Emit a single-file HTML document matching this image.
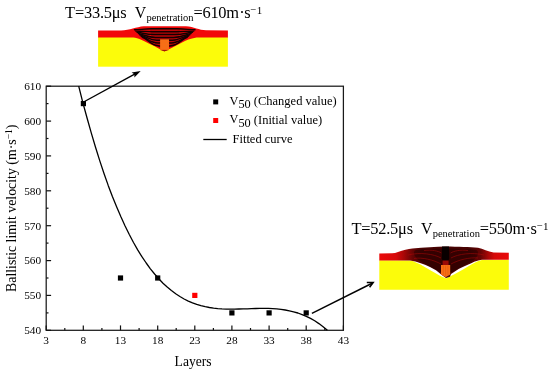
<!DOCTYPE html>
<html><head><meta charset="utf-8"><title>Ballistic limit velocity vs layers</title>
<style>
html,body{margin:0;padding:0;background:#fff;}
body{width:550px;height:373px;overflow:hidden;font-family:"Liberation Serif",serif;}
svg{display:block;}
text{font-family:"Liberation Serif",serif;fill:#000;white-space:pre;}
</style></head><body>
<svg width="550" height="373" viewBox="0 0 550 373">
<rect width="550" height="373" fill="#fff"/>
<g id="inset1">
<rect x="98.1" y="37" width="129.8" height="29.7" fill="#fcfc0a"/>
<path d="M98.1,30.4 L121,30.4 C130,30.2 136,26.8 144,26.2 L186,26.2 C194,26.8 199,30 206,30.3 L227.9,30.4 L227.9,37.5 L196.5,37.5 C190,38.5 186,40.5 183,42 L170,48.8 L164.4,51.6 L160,49.2 C152,44.8 145,41.5 139.5,39 C136,37.8 134,37.5 132,37.5 L98.1,37.5 Z" fill="#f2080a"/>
<path d="M150,28.5 C158,27.5 172,27.5 180,28.5 L178,41 L170,47 L164.4,50.5 L160,48 L152,41 Z" fill="#3a0202" opacity="0.3"/>
<g stroke="#140000" fill="none" stroke-linecap="round">
<path stroke-width="1.45" d="M134.5,29.8 C140.5,29.8 143.5,28.8 151.5,28.8 L177.5,28.8 C185.5,28.8 189.0,29.8 195.0,29.8"/>
<path stroke-width="1.45" d="M135.8,31.1 C141.8,31.4 144.8,31.7 152.8,31.7 L176.2,31.7 C184.2,31.7 187.7,31.4 193.7,31.1"/>
<path stroke-width="1.45" d="M137.1,32.3 C143.1,33.0 146.1,34.5 154.1,34.5 L174.9,34.5 C182.9,34.5 186.4,33.0 192.4,32.3"/>
<path stroke-width="1.45" d="M138.4,33.5 C144.4,34.6 147.4,37.4 155.4,37.4 L173.6,37.4 C181.6,37.4 185.1,34.6 191.1,33.5"/>
<path stroke-width="1.45" d="M139.7,34.8 C145.7,36.2 148.7,40.2 156.7,40.2 L172.3,40.2 C180.3,40.2 183.8,36.2 189.8,34.8"/>
<path stroke-width="1.45" d="M141.0,36.0 C147.0,37.8 150.0,43.0 158.0,43.0 L171.0,43.0 C179.0,43.0 182.5,37.8 188.5,36.0"/>
<path stroke-width="1.45" d="M142.3,37.3 C148.3,39.4 151.3,45.9 159.3,45.9 L169.7,45.9 C177.7,45.9 181.2,39.4 187.2,37.3"/>
</g>
<rect x="160.1" y="39.3" width="8.9" height="10.6" fill="#f76e16"/>
<path d="M160.1,49.9 L169,49.9 L164.5,51.3 Z" fill="#a01808"/>
</g>

<g id="inset2">
<defs>
<linearGradient id="rb" gradientUnits="userSpaceOnUse" x1="379.3" x2="508.8" y1="0" y2="0"><stop offset="0" stop-color="#ea0a0a"/><stop offset="0.13" stop-color="#d60909"/><stop offset="0.19" stop-color="#a80707"/><stop offset="0.26" stop-color="#640404"/><stop offset="0.33" stop-color="#480303"/><stop offset="0.70" stop-color="#480303"/><stop offset="0.78" stop-color="#640404"/><stop offset="0.84" stop-color="#a80707"/><stop offset="0.89" stop-color="#d60909"/><stop offset="1" stop-color="#ea0a0a"/></linearGradient>
</defs>
<path d="M379.3,260.3 L409.8,260.4 C412,260.6 413.5,261.2 415,262 C417,262.9 418.5,263.6 420,264.3 L429,269.4 L437.8,274.5 C440,275.8 442.5,276.9 444.2,277.6 C445,278.2 446,278.4 446.5,278.2 C447,278.1 447.3,277.8 447.6,277.6 C450,276.7 452,275.6 454,274.5 L463,269.4 L471.8,264.3 C475,262.4 478,260.6 482,259.9 L508.8,259.8 L508.8,289.7 L379.3,289.7 Z" fill="#fcfc0a"/>
<path d="M379.3,253.4 L392,253.2 C394,253.2 396,252.6 398,251.9 C403,250 408,248.9 412.4,248.4 C424,247.2 436,246.6 446,246.4 C458,246.5 470,247 478,247.7 C483,248.6 488,251.6 493.5,252.6 L508.8,252.8 L508.8,259.8 L482,259.8 C478,260.2 475,261.4 471.8,263 L465.5,265.8 L459,268.8 L451,274 L450,276.8 L446,278 L441.2,274.4 L436,270.3 L430,266.9 L425,264.8 L420,263 C417,262.2 414,261 410,260.6 L379.3,260.5 Z" fill="url(#rb)"/>
<path d="M416,250 C430,248 462,248 476,250 C480,252 478,257 472,261 L452,272 L440,272 L420,261 C414,257 412,252 416,250 Z" fill="#200000" opacity="0.5"/>
<g stroke="#b00808" stroke-width="0.7" fill="none" opacity="0.75"><path d="M408,255 C420,252 434,254 441,258"/><path d="M414,258.5 C422,257 434,260 441,264"/><path d="M484,255 C472,252 458,254 451,258"/><path d="M478,258 C470,257 458,260 451,264"/><path d="M424,250.5 C432,249.5 438,251 441.5,253"/><path d="M468,250.5 C460,249.5 454,251 450.5,253"/></g>
<path d="M442,246.4 L449,246.4 L449.2,258.5 L448.2,261.5 L443,261.5 L441.8,258.5 Z" fill="#080000"/>
<rect x="442.6" y="260.5" width="6" height="4.6" fill="#9a0a06"/>
<path d="M441,264.9 L450.2,264.9 L450.2,274.6 L445.6,277.2 L441,274.6 Z" fill="#f76e16"/>
<g stroke="#e0580c" stroke-width="0.6"><line x1="443.3" y1="265.5" x2="443.3" y2="275.5"/><line x1="445.6" y1="265.5" x2="445.6" y2="276.8"/><line x1="447.9" y1="265.5" x2="447.9" y2="275.5"/></g>
</g>

<rect x="46.2" y="86.2" width="297.2" height="244.1" fill="none" stroke="#1a1a1a" stroke-width="1.25"/>
<g stroke="#111" stroke-width="1.2"><line x1="46.2" y1="330.3" x2="46.2" y2="325.4"/><line x1="64.8" y1="330.3" x2="64.8" y2="328.0"/><line x1="83.3" y1="330.3" x2="83.3" y2="325.4"/><line x1="101.9" y1="330.3" x2="101.9" y2="328.0"/><line x1="120.5" y1="330.3" x2="120.5" y2="325.4"/><line x1="139.1" y1="330.3" x2="139.1" y2="328.0"/><line x1="157.7" y1="330.3" x2="157.7" y2="325.4"/><line x1="176.2" y1="330.3" x2="176.2" y2="328.0"/><line x1="194.8" y1="330.3" x2="194.8" y2="325.4"/><line x1="213.4" y1="330.3" x2="213.4" y2="328.0"/><line x1="231.9" y1="330.3" x2="231.9" y2="325.4"/><line x1="250.5" y1="330.3" x2="250.5" y2="328.0"/><line x1="269.1" y1="330.3" x2="269.1" y2="325.4"/><line x1="287.7" y1="330.3" x2="287.7" y2="328.0"/><line x1="306.2" y1="330.3" x2="306.2" y2="325.4"/><line x1="324.8" y1="330.3" x2="324.8" y2="328.0"/><line x1="343.4" y1="330.3" x2="343.4" y2="325.4"/><line x1="46.2" y1="330.3" x2="51.1" y2="330.3"/><line x1="46.2" y1="312.9" x2="48.5" y2="312.9"/><line x1="46.2" y1="295.4" x2="51.1" y2="295.4"/><line x1="46.2" y1="278.0" x2="48.5" y2="278.0"/><line x1="46.2" y1="260.6" x2="51.1" y2="260.6"/><line x1="46.2" y1="243.1" x2="48.5" y2="243.1"/><line x1="46.2" y1="225.7" x2="51.1" y2="225.7"/><line x1="46.2" y1="208.2" x2="48.5" y2="208.2"/><line x1="46.2" y1="190.8" x2="51.1" y2="190.8"/><line x1="46.2" y1="173.4" x2="48.5" y2="173.4"/><line x1="46.2" y1="155.9" x2="51.1" y2="155.9"/><line x1="46.2" y1="138.5" x2="48.5" y2="138.5"/><line x1="46.2" y1="121.1" x2="51.1" y2="121.1"/><line x1="46.2" y1="103.6" x2="48.5" y2="103.6"/><line x1="46.2" y1="86.2" x2="51.1" y2="86.2"/></g>
<path d="M78.7,86.2 L82.9,102.8 L87.2,118.5 L91.4,133.4 L95.6,147.5 L99.8,160.9 L104.0,173.5 L108.2,185.4 L112.4,196.5 L116.7,207.0 L120.9,216.8 L125.1,226.0 L129.3,234.5 L133.5,242.5 L137.7,249.9 L141.9,256.7 L146.2,263.0 L150.4,268.8 L154.6,274.0 L158.8,278.8 L163.0,283.2 L167.2,287.1 L171.4,290.6 L175.7,293.8 L179.9,296.5 L184.1,299.0 L188.3,301.1 L192.5,302.9 L196.7,304.4 L200.9,305.7 L205.2,306.7 L209.4,307.5 L213.6,308.2 L217.8,308.6 L222.0,308.9 L226.2,309.1 L230.4,309.2 L234.6,309.1 L238.9,309.0 L243.1,308.9 L247.3,308.8 L251.5,308.6 L255.7,308.5 L259.9,308.4 L264.1,308.4 L268.4,308.4 L272.6,308.6 L276.8,308.9 L281.0,309.3 L285.2,310.0 L289.4,310.8 L293.6,311.8 L297.9,313.0 L302.1,314.6 L306.3,316.3 L310.5,318.4 L314.7,320.8 L318.9,323.6 L323.1,326.7 L327.4,330.2" fill="none" stroke="#000" stroke-width="1.3" stroke-linejoin="round"/>
<g fill="#000"><rect x="80.8" y="101.0" width="5.2" height="5.2"/><rect x="117.9" y="275.4" width="5.2" height="5.2"/><rect x="155.1" y="275.4" width="5.2" height="5.2"/><rect x="229.3" y="310.3" width="5.2" height="5.2"/><rect x="266.5" y="310.3" width="5.2" height="5.2"/><rect x="303.6" y="310.3" width="5.2" height="5.2"/><rect x="192.2" y="292.8" width="5.2" height="5.2" fill="#f00"/></g>
<g font-size="11.3" text-anchor="middle"><text x="46.2" y="344.2">3</text><text x="83.3" y="344.2">8</text><text x="120.5" y="344.2">13</text><text x="157.7" y="344.2">18</text><text x="194.8" y="344.2">23</text><text x="231.9" y="344.2">28</text><text x="269.1" y="344.2">33</text><text x="306.2" y="344.2">38</text><text x="343.4" y="344.2">43</text></g>
<g font-size="11.3" text-anchor="end"><text x="41.1" y="334.1">540</text><text x="41.1" y="299.2">550</text><text x="41.1" y="264.4">560</text><text x="41.1" y="229.5">570</text><text x="41.1" y="194.6">580</text><text x="41.1" y="159.7">590</text><text x="41.1" y="124.9">600</text><text x="41.1" y="90.0">610</text></g>
<text x="193.1" y="365.6" font-size="13.6" text-anchor="middle">Layers</text>
<text transform="translate(16.0,208.3) rotate(-90)" font-size="13.85" text-anchor="middle">Ballistic limit velocity (m·s<tspan font-size="9.5" dy="-4.5">−1</tspan><tspan dy="4.5">)</tspan></text>
<g>
<rect x="213.2" y="99.4" width="5" height="5" fill="#000"/>
<rect x="213.2" y="118" width="5" height="5" fill="#f00"/>
<line x1="203.3" y1="139.5" x2="226.7" y2="139.5" stroke="#000" stroke-width="1.3"/>
<text x="229.5" y="105.3" font-size="12.5"><tspan font-size="12.3" dy="-0.5">V</tspan><tspan font-size="12.3" dy="3.5">50</tspan><tspan dy="-3"> (Changed value)</tspan></text>
<text x="229.5" y="123.9" font-size="12.5"><tspan font-size="12.3" dy="-0.5">V</tspan><tspan font-size="12.3" dy="3.5">50</tspan><tspan dy="-3"> (Initial value)</tspan></text>
<text x="232.5" y="143" font-size="12.5">Fitted curve</text>
</g>
<g stroke="#000" stroke-width="1.4" fill="none">
<line x1="84.5" y1="101.5" x2="136.5" y2="73.2"/>
<path d="M140.7,70.9 L131.6,72.4 L134.4,74.3 L134.4,77.6 Z" fill="#000" stroke="none"/>
<line x1="311.9" y1="313.3" x2="372.6" y2="283.0" stroke-width="1.4"/>
<path d="M366.8,282.6 L373.2,282.5 L369.6,287.3" stroke-linejoin="miter" stroke-width="1.5"/>
</g>
<g font-size="16.4"><text x="65.1" y="17.6" letter-spacing="-0.21">T=33.5μs</text><text x="134.8" y="17.6" font-size="15.8">V</text><text x="146.4" y="20.6" font-size="10.5">penetration</text><text x="193.5" y="17.6" letter-spacing="-0.28">=610</text><text x="226.3" y="17.6">m</text><text x="239.3" y="17.6">·</text><text x="244.3" y="17.6">s</text><text x="250.6" y="13.0" font-size="10.5" fill="#555">−</text><text x="256.8" y="13.5" font-size="11">1</text></g>
<g font-size="16.4"><text x="351.4" y="233.7" letter-spacing="-0.21">T=52.5μs</text><text x="421.1" y="233.7" font-size="15.8">V</text><text x="432.7" y="236.7" font-size="10.5">penetration</text><text x="479.8" y="233.7" letter-spacing="-0.28">=550</text><text x="512.6" y="233.7">m</text><text x="525.6" y="233.7">·</text><text x="530.6" y="233.7">s</text><text x="536.9" y="229.1" font-size="10.5" fill="#555">−</text><text x="543.1" y="229.6" font-size="11">1</text></g>
</svg>
</body></html>
